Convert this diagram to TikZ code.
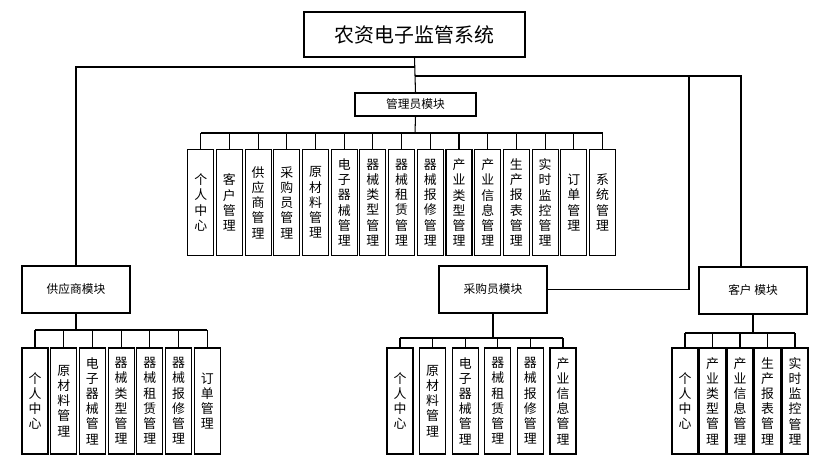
\documentclass[tikz,border=0pt]{standalone}
\usepackage{fontspec}
\setmainfont{Noto Sans CJK SC}
\XeTeXlinebreaklocale "zh"
\XeTeXlinebreakskip=0pt plus 1pt
\usetikzlibrary{positioning}

\begin{document}
\begin{tikzpicture}
% Style
[
    x=0.03cm, y=-0.03cm, line width=.9pt,
    root/.style={draw, minimum width=6.63cm, minimum height=1.35cm, font=\fontsize{17}{20}\selectfont},
    module/.style={draw, minimum width=3.24cm, minimum height=1.41cm, font=\fontsize{10}{12}\selectfont},
    leaf/.style={draw, minimum width=.78cm, minimum height=3.18cm, inner sep=0pt,
        text width=1.2em, align=center, font=\fontsize{11}{13}\selectfont}
]
\useasboundingbox (0,0) rectangle (837,474);

%=================================== Top ===================================
\node[root] (root) at (414.5,34.5) {农资电子监管系统};
\node[draw, minimum width=3.63cm, minimum height=.69cm, font=\fontsize{10}{12}\selectfont] (mgr) at (415.5,104.5) {管理员模块};
\node[module] (sup) at (76,289.5) {供应商模块};
\node[module] (pur) at (493,289.5) {采购员模块};
\node[module] (cus) at (753,290.5) {客户 模块};

\coordinate (j-sup) at (415,67);
\coordinate (j-cus) at (415,76);
\coordinate (j-pur) at (689,76);
\coordinate (cus-top) at (741,268);
\draw (root.south) -- (mgr.north);
\draw (j-sup) -| (sup.north);
\draw (j-cus) -| (cus-top);
\draw (pur.east) -| (j-pur);

%=================================== Leaves ===================================
\coordinate (mgr-bus) at (415,133);
\foreach \t [count=\i] in {个人中心,客户管理,供应商管理,采购员管理,原材料管理,电子器械管理,器械类型管理,器械租赁管理,器械报修管理,产业类型管理,产业信息管理,生产报表管理,实时监控管理,订单管理,系统管理} {
    \node[leaf] (mgr-\i) at ({200.7+28.7*(\i-1)},202.5) {\t};
    \draw (mgr-\i.north) -- (mgr-\i.north |- mgr-bus);
}
\draw (mgr-bus -| mgr-1) -- (mgr-bus -| mgr-15);
\draw (mgr.south) -- (mgr-bus);

\coordinate (sup-bus) at (76,330);
\foreach \t [count=\i] in {个人中心,原材料管理,电子器械管理,器械类型管理,器械租赁管理,器械报修管理,订单管理} {
    \node[leaf] (sup-\i) at ({35+28.7*(\i-1)},401) {\t};
    \draw (sup-\i.north) -- (sup-\i.north |- sup-bus);
}
\draw (sup-bus -| sup-1) -- (sup-bus -| sup-7);
\draw (sup.south) -- (sup-bus);

\coordinate (pur-bus) at (493,338);
\foreach \t [count=\i] in {个人中心,原材料管理,电子器械管理,器械租赁管理,器械报修管理,产业信息管理} {
    \node[leaf] (pur-\i) at ({400+32.6*(\i-1)},401) {\t};
    \draw (pur-\i.north) -- (pur-\i.north |- pur-bus);
}
\draw (pur-bus -| pur-1) -- (pur-bus -| pur-6);
\draw (pur.south) -- (pur-bus);

\coordinate (cus-bus) at (753,333);
\foreach \t [count=\i] in {个人中心,产业类型管理,产业信息管理,生产报表管理,实时监控管理} {
    \node[leaf] (cus-\i) at ({685+27.5*(\i-1)},401) {\t};
    \draw (cus-\i.north) -- (cus-\i.north |- cus-bus);
}
\draw (cus-bus -| cus-1) -- (cus-bus -| cus-5);
\draw (cus.south) -- (cus-bus);

\end{tikzpicture}
\end{document}
